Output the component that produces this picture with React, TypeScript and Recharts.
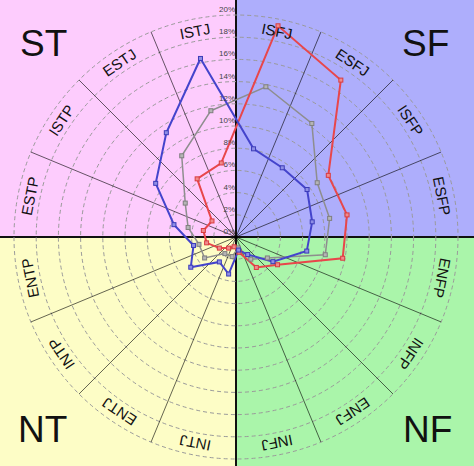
import React from "react";
import {
  RadarChart,
  Radar,
  PolarGrid,
  PolarAngleAxis,
  PolarRadiusAxis
} from "recharts";

// MBTI types, clockwise starting just left of the top
const types = [
  "ISTJ", "ISFJ", "ESFJ", "ISFP", "ESFP", "ENFP", "INFP", "ENFJ",
  "INFJ", "INTJ", "ENTJ", "INTP", "ENTP", "ESTP", "ISTP", "ESTJ"
];

// percentages
const blueValues = [16.4, 8.1, 7.5, 7.7, 7.0, 6.5, 4.0, 1.9, 1.2, 3.4, 2.7, 4.9, 3.9, 5.7, 8.7, 11.3];
const redValues = [6.8, 19.4, 17.0, 10.0, 10.2, 9.8, 4.5, 3.3, 1.4, 0.9, 1.2, 1.8, 2.7, 3.0, 2.6, 6.3];
const grayValues = [11.6, 13.8, 12.3, 8.8, 8.6, 8.2, 3.4, 2.4, 1.0, 1.8, 1.8, 3.4, 3.4, 4.4, 5.5, 8.8];

const upperTicks = [0, 2, 4, 6, 8, 10, 12, 14, 16, 18, 20];
const lowerTicks = [2, 4, 6, 8, 10, 12, 14, 16, 18, 20];

const quadrantLabels = [
  { text: "ST", left: 20, top: 25 },
  { text: "SF", left: 402, top: 25 },
  { text: "NT", left: 18, top: 411 },
  { text: "NF", left: 403, top: 411 }
];

const W = 474;
const H = 466;
const CX = 236;
const CY = 237;
const R = 222;
const FONT = "'Liberation Sans', Arial, sans-serif";

// spokes sit between the types; the 0/90/180/270 ones are the thick quadrant lines
const spokeAngles = Array.from({ length: 16 }, (_, i) => i * 22.5).filter(
  (a) => a % 90 !== 0
);

const data = types.map((type, i) => ({
  type,
  blue: blueValues[i],
  red: redValues[i],
  gray: grayValues[i]
}));

function TypeTick(props: any) {
  const { x, y, payload } = props;
  const angle = payload.coordinate;
  return (
    <text
      x={x}
      y={y}
      textAnchor="middle"
      dominantBaseline="central"
      fontSize={15}
      fontFamily={FONT}
      fill="#111"
      transform={`rotate(${90 - angle}, ${x}, ${y})`}
    >
      {payload.value}
    </text>
  );
}

function UpperTick(props: any) {
  const { x, y, payload } = props;
  return (
    <text x={x - 1} y={y - 3} textAnchor="end" fontSize={8} fontFamily={FONT} fill="#444">
      {payload.value}%
    </text>
  );
}

function LowerTick(props: any) {
  const { x, y, payload } = props;
  return (
    <text x={x - 1} y={y - 3} textAnchor="end" fontSize={8} fontFamily={FONT} fill="#444">
      -{payload.value}%
    </text>
  );
}

function squareDot(stroke: string, fill: string) {
  return (props: any) => {
    const { cx, cy, index } = props;
    return (
      <rect
        key={`d-${index}`}
        x={cx - 2}
        y={cy - 2}
        width={4}
        height={4}
        fill={fill}
        stroke={stroke}
        strokeWidth={1}
      />
    );
  };
}

export default function App() {
  return (
    <div
      style={{
        position: "absolute",
        left: 0,
        top: 0,
        width: W,
        height: H,
        overflow: "hidden",
        fontFamily: FONT
      }}
    >
      <div style={{ position: "absolute", left: 0, top: 0, width: CX, height: CY, background: "#fdccfd" }} />
      <div style={{ position: "absolute", left: CX, top: 0, width: W - CX, height: CY, background: "#aeaefc" }} />
      <div style={{ position: "absolute", left: 0, top: CY, width: CX, height: H - CY, background: "#fdfdc6" }} />
      <div style={{ position: "absolute", left: CX, top: CY, width: W - CX, height: H - CY, background: "#aaf5aa" }} />
      <div style={{ position: "absolute", left: CX - 1, top: 0, width: 2, height: H, background: "#111" }} />
      <div style={{ position: "absolute", left: 0, top: CY - 1, width: W, height: 2, background: "#111" }} />

      {quadrantLabels.map((q) => (
        <div
          key={q.text}
          style={{
            position: "absolute",
            left: q.left,
            top: q.top,
            fontSize: 37,
            lineHeight: "37px",
            color: "#111"
          }}
        >
          {q.text}
        </div>
      ))}

      <div style={{ position: "absolute", left: 0, top: 0 }}>
        <RadarChart
          width={W}
          height={H}
          data={data}
          cx={CX}
          cy={CY}
          outerRadius={R}
          startAngle={101.25}
          endAngle={-258.75}
          margin={{ top: 0, right: 0, bottom: 0, left: 0 }}
        >
          <PolarGrid
            gridType="circle"
            radialLines={false}
            stroke="#9a9a9a"
            strokeDasharray="4 3"
          />
          <PolarGrid
            polarAngles={spokeAngles}
            polarRadius={[]}
            stroke="#000"
            strokeOpacity={0.6}
          />
          <PolarAngleAxis
            dataKey="type"
            tick={<TypeTick />}
            tickLine={false}
            axisLine={false}
            orientation="inner"
            tickSize={12}
          />
          <PolarRadiusAxis
            angle={90}
            type="number"
            domain={[0, 20]}
            ticks={upperTicks}
            tickCount={11}
            tick={<UpperTick />}
            axisLine={false}
            tickLine={false}
          />
          <PolarRadiusAxis
            radiusAxisId="lower"
            angle={270}
            type="number"
            domain={[0, 20]}
            ticks={lowerTicks}
            tick={<LowerTick />}
            axisLine={false}
            tickLine={false}
          />
          <Radar
            dataKey="gray"
            stroke="#8e8e8e"
            strokeWidth={1.5}
            fill="none"
            dot={squareDot("#7f7f7f", "#b5b5b5")}
            isAnimationActive={false}
          />
          <Radar
            dataKey="red"
            stroke="#e8464b"
            strokeWidth={2}
            fill="none"
            dot={squareDot("#d83c40", "#f08a8c")}
            isAnimationActive={false}
          />
          <Radar
            dataKey="blue"
            stroke="#4444cc"
            strokeWidth={2}
            fill="none"
            dot={squareDot("#3c3cb8", "#8e8ee6")}
            isAnimationActive={false}
          />
        </RadarChart>
      </div>
    </div>
  );
}
